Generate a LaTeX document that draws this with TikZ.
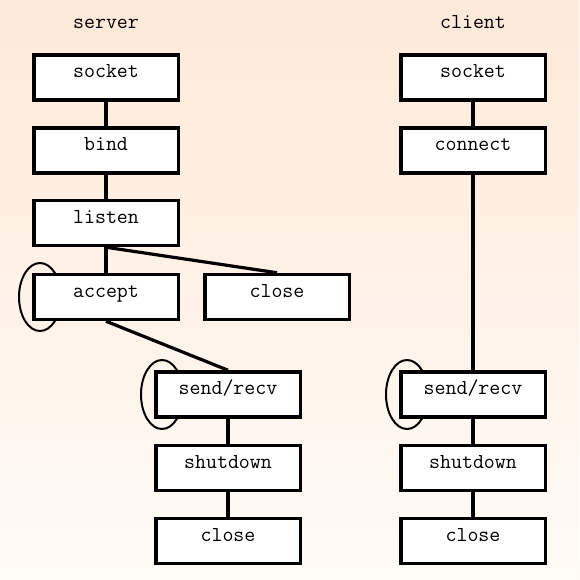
\documentclass[tikz,border=0pt]{standalone}
\usepackage{fontspec}
\usetikzlibrary{calc}
\definecolor{bgtop}{RGB}{255,233,216}
\definecolor{bgbot}{RGB}{255,251,247}
\pgfdeclarelayer{bglayer}
\pgfdeclarelayer{looplayer}
\pgfsetlayers{bglayer,looplayer,main}
\tikzset{
  stepbox/.style={draw=black, fill=white, line width=3.5pt, minimum width=144.5pt, minimum height=45pt,
    inner sep=0pt, text height=9pt, text depth=9pt, font=\ttfamily\fontsize{21.3}{23}\selectfont},
  title/.style={inner sep=0pt, anchor=base, font=\ttfamily\fontsize{21.3}{23}\selectfont},
  conn/.style={line width=3.2pt},
  loopline/.style={line width=2pt},
}
\begin{document}
\begin{tikzpicture}[x=1pt,y=-1pt]
\useasboundingbox (0,0) rectangle (579,580);
\begin{pgfonlayer}{bglayer}
\shade[top color=bgtop, bottom color=bgbot] (0,0) rectangle (579,580);
\end{pgfonlayer}
% titles
\node[title] (tserver) at (106,29) {server};
\node[title] (tclient) at (473,29) {client};
% server
\node[stepbox] (ssock) at (106,77.5) {socket};
\node[stepbox] (sbind) at (106,150.5) {bind};
\node[stepbox] (slisten) at (106,223) {listen};
\node[stepbox] (saccept) at (106,297) {accept};
\node[stepbox] (sclose1) at (277,297) {close};
\node[stepbox] (ssend) at (228,394.5) {send/recv};
\node[stepbox] (sshut) at (228,468) {shutdown};
\node[stepbox] (sclose) at (228,541) {close};
% client
\node[stepbox] (csock) at (473,77.5) {socket};
\node[stepbox] (cconn) at (473,150.5) {connect};
\node[stepbox] (csend) at (473,394.5) {send/recv};
\node[stepbox] (cshut) at (473,468) {shutdown};
\node[stepbox] (cclose) at (473,541) {close};
% connectors
\draw[conn] (ssock) -- (sbind);
\draw[conn] (sbind) -- (slisten);
\draw[conn] (slisten) -- (saccept);
\draw[conn] (slisten.south) -- (sclose1.north);
\draw[conn] (saccept.south) -- (ssend.north);
\draw[conn] (ssend) -- (sshut);
\draw[conn] (sshut) -- (sclose);
\draw[conn] (csock) -- (cconn);
\draw[conn] (cconn) -- (csend);
\draw[conn] (csend) -- (cshut);
\draw[conn] (cshut) -- (cclose);
% loops
\begin{pgfonlayer}{looplayer}
\draw[loopline] ($(saccept.west)+(8,0)$) ellipse [x radius=21pt, y radius=34pt];
\draw[loopline] ($(ssend.west)+(8,0)$) ellipse [x radius=21pt, y radius=34.5pt];
\draw[loopline] ($(csend.west)+(8,0)$) ellipse [x radius=21pt, y radius=34.5pt];
\end{pgfonlayer}
\end{tikzpicture}
\end{document}
